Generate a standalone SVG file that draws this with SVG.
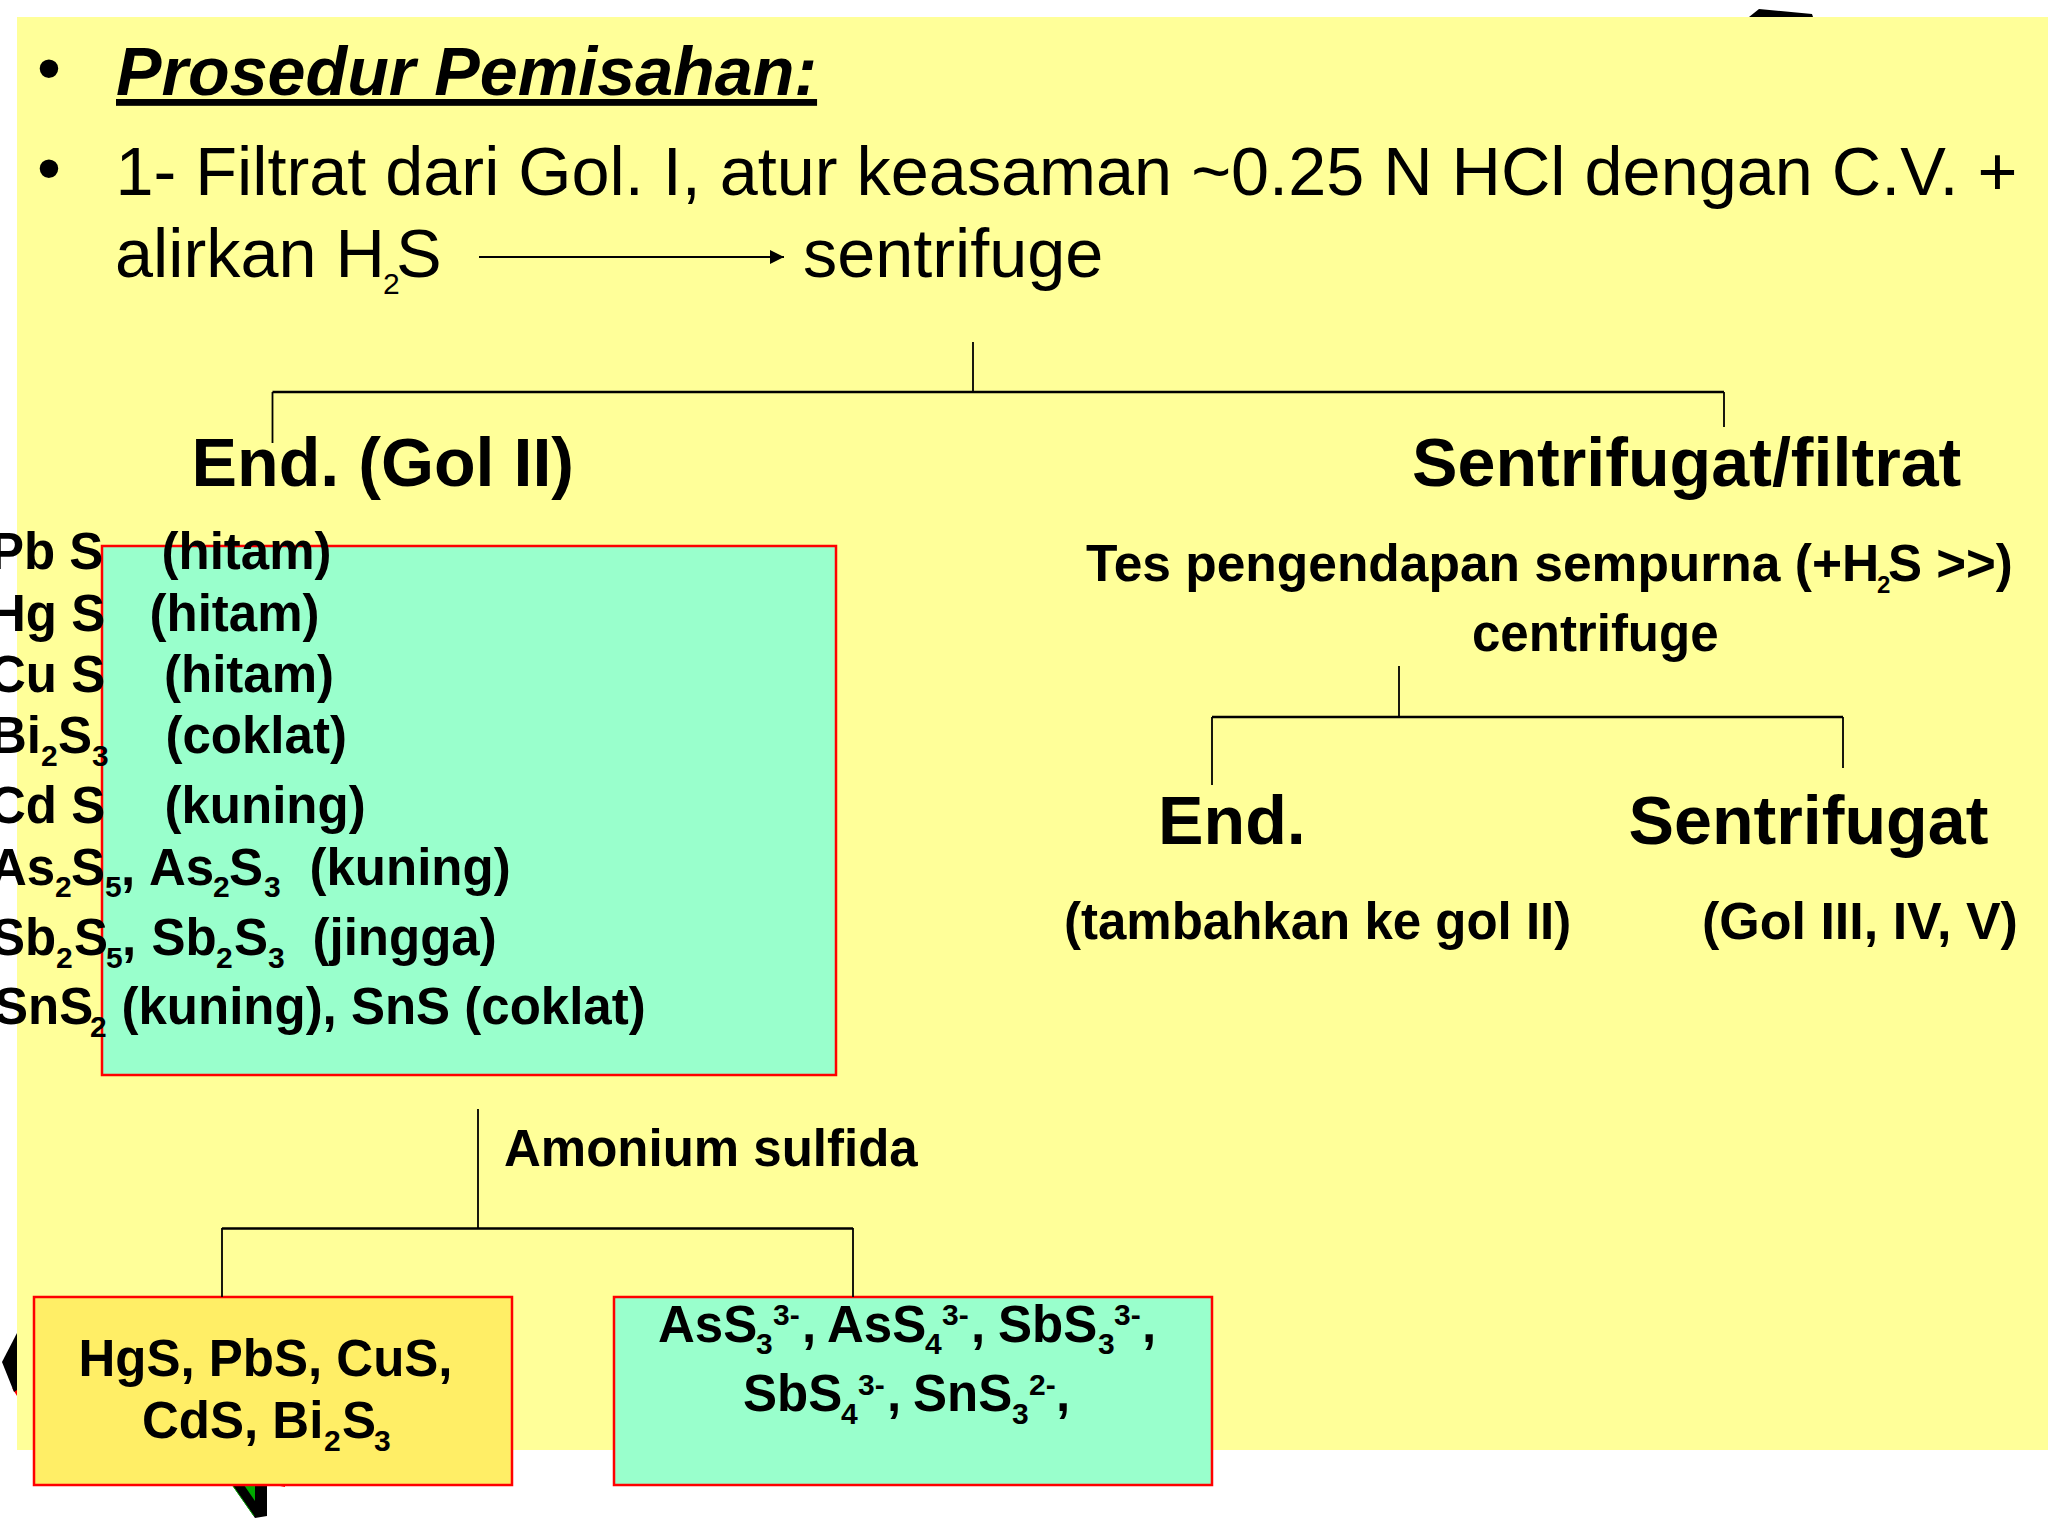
<svg xmlns="http://www.w3.org/2000/svg" width="2048" height="1536" viewBox="0 0 2048 1536">
<style>
text{font-family:"Liberation Sans",Arial,sans-serif;fill:#000}
.b{font-weight:700}
.h1{font-size:68.400px}
.h2{font-size:68.200px;font-weight:700}
.m{font-size:51px;font-weight:700}
.s{font-size:30px;font-weight:700}
.u{font-size:30px;font-weight:700}
.l{fill:none;stroke:#000;stroke-width:1.800}
.t{fill:none;stroke:#000;stroke-width:2.600}
.box{stroke:#f00;stroke-width:2.500}
</style>
<defs>
<marker id="ah" viewBox="0 0 10 10" refX="10" refY="5" markerWidth="14" markerHeight="14" markerUnits="userSpaceOnUse" orient="auto"><path d="M0 0L10 5L0 10Z" fill="#000"/></marker>
</defs>
<rect width="2048" height="1536" fill="#fff"/>
<g id="fragments">
<polygon points="1749,17 1759,9 1812,14 1813,17" fill="#000"/>
<polygon points="12,1388 17,1396 17,1390" fill="#f00"/>
<polygon points="17,1333 2,1362 14,1392 17,1390" fill="#000"/>
<polygon points="232,1485 255,1518 267,1516 267,1485" fill="#000"/>
<polygon points="244,1485 255,1501 255,1485" fill="#0a0"/>
<line x1="233" y1="1486" x2="254" y2="1516" stroke="#0a0" stroke-width="1"/>
<polygon points="275,1485 285,1487 285,1485" fill="#f00"/>
</g>
<rect id="background" x="17" y="17" width="2031" height="1433" fill="#ffff99"/>
<g id="group-ii-box"><rect class="box" x="102" y="546" width="734" height="529" fill="#99ffcc"/></g>
<g id="precipitate-box"><rect class="box" x="34" y="1297" width="478" height="188" fill="#ffee66"/></g>
<g id="soluble-box"><rect class="box" x="614" y="1297" width="598" height="188" fill="#99ffcc"/></g>
<g id="connectors">
<line class="l" x1="479" y1="257" x2="784" y2="257" marker-end="url(#ah)"/>
<path class="l" d="M973 342V392M272.500 443V392M1724 392V427"/>
<path class="t" d="M272.500 392H1724"/>
<path class="l" d="M1399 666V717M1212 785V717M1843 717V768"/>
<path class="t" d="M1212 717H1843"/>
<path class="l" d="M478 1109V1228M222 1297V1228M853 1228V1297"/>
<path class="t" d="M222 1228.500H853"/>
</g>
<g id="heading">
<text class="h1" x="37" y="91">•</text>
<text class="h2" x="116" y="95" font-style="italic" text-decoration="underline">Prosedur Pemisahan:</text>
</g>
<g id="step-1">
<text class="h1" x="37" y="191">•</text>
<text class="h1" x="115.500" y="195">1- Filtrat dari Gol. I, atur keasaman ~0.25 N HCl dengan C.V. +</text>
<text class="h1" x="115" y="277">alirkan H</text>
<text x="383" y="294" font-size="30">2</text>
<text class="h1" x="396" y="277">S</text>
<text class="h1" x="803" y="277">sentrifuge</text>
</g>
<g id="end-gol-ii"><text class="h2" x="191.500" y="485.500">End. (Gol II)</text></g>
<g id="sentrifugat-filtrat"><text class="h2" x="1412" y="485.500">Sentrifugat/filtrat</text></g>
<g id="test-step">
<text x="1086" y="581" class="b" font-size="51.500">Tes pengendapan sempurna (+H</text>
<text class="b" x="1877" y="593" font-size="24">2</text>
<text class="m" x="1888" y="581">S &gt;&gt;)</text>
<text class="m" x="1472" y="650.500">centrifuge</text>
</g>
<g id="end-node"><text class="h2" x="1158" y="844">End.</text><text class="m" x="1064" y="939">(tambahkan ke gol II)</text></g>
<g id="sentrifugat-node"><text class="h2" x="1628.500" y="844">Sentrifugat</text><text class="m" x="1702" y="939" style="font-size:52px">(Gol III, IV, V)</text></g>
<g id="group-ii-list">
<text class="m" x="-10" y="569">Pb S</text><text class="m" x="161.500" y="569">(hitam)</text>
<text class="m" x="-11" y="630.500">Hg S</text><text class="m" x="149.500" y="630.500">(hitam)</text>
<text class="m" x="-11" y="692">Cu S</text><text class="m" x="164" y="692">(hitam)</text>
<text class="m" x="-10" y="753">Bi</text><text class="s" x="41" y="766">2</text><text class="m" x="58" y="753">S</text><text class="s" x="92" y="766">3</text><text class="m" x="165.500" y="753">(coklat)</text>
<text class="m" x="-11" y="823">Cd S</text><text class="m" x="164.500" y="823">(kuning)</text>
<text class="m" x="-10" y="885">As</text><text class="s" x="55" y="897">2</text><text class="m" x="71" y="885">S</text><text class="s" x="105" y="897">5</text><text class="m" x="121" y="885">,</text><text class="m" x="149" y="885">As</text><text class="s" x="213" y="897">2</text><text class="m" x="229" y="885">S</text><text class="s" x="264" y="897">3</text><text class="m" x="309.500" y="885">(kuning)</text>
<text class="m" x="-9" y="955">Sb</text><text class="s" x="56" y="968">2</text><text class="m" x="74" y="955">S</text><text class="s" x="106" y="968">5</text><text class="m" x="122" y="955">,</text><text class="m" x="151.500" y="955">Sb</text><text class="s" x="216" y="968">2</text><text class="m" x="234" y="955">S</text><text class="s" x="268" y="968">3</text><text class="m" x="312.500" y="955">(jingga)</text>
<text class="m" x="-6" y="1024">SnS</text><text class="s" x="90" y="1037">2</text><text class="m" x="121.500" y="1024">(kuning), SnS (coklat)</text>
</g>
<g id="reagent"><text class="m" x="504" y="1165.500">Amonium sulfida</text></g>
<g id="precipitate-text">
<text class="m" x="78.500" y="1375.500">HgS, PbS, CuS,</text>
<text class="m" x="142" y="1437.500">CdS, Bi</text><text class="s" x="324" y="1451">2</text><text class="m" x="342" y="1437.500">S</text><text class="s" x="374" y="1451">3</text>
</g>
<g id="soluble-text">
<text class="m" x="658" y="1341.500">AsS</text><text class="s" x="756" y="1354">3</text><text class="u" x="773" y="1325">3-</text><text class="m" x="802" y="1341.500">,</text>
<text class="m" x="827" y="1341.500">AsS</text><text class="s" x="925" y="1354">4</text><text class="u" x="942" y="1325">3-</text><text class="m" x="971" y="1341.500">,</text>
<text class="m" x="998" y="1341.500">SbS</text><text class="s" x="1098" y="1354">3</text><text class="u" x="1114" y="1325">3-</text><text class="m" x="1142" y="1341.500">,</text>
<text class="m" x="743" y="1410.500">SbS</text><text class="s" x="841" y="1424">4</text><text class="u" x="858" y="1395">3-</text><text class="m" x="887" y="1410.500">,</text>
<text class="m" x="913" y="1410.500">SnS</text><text class="s" x="1012" y="1424">3</text><text class="u" x="1029" y="1395">2-</text><text class="m" x="1056" y="1410.500">,</text>
</g>
</svg>
